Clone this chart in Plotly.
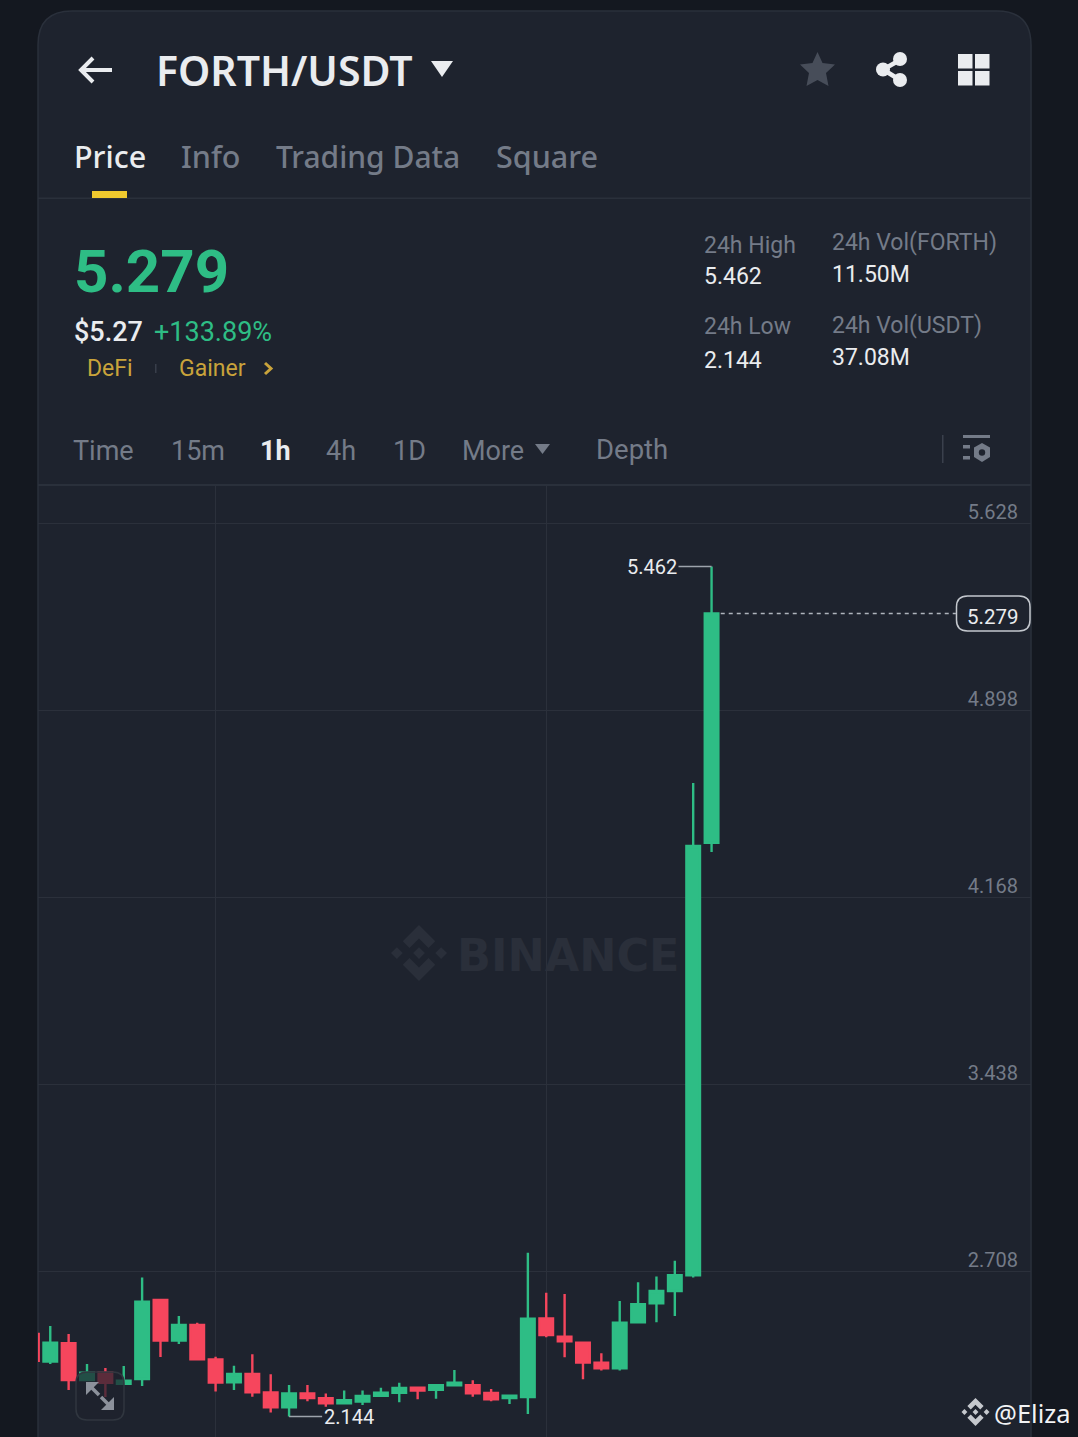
import plotly.graph_objects as go

W, H = 1078, 1437

# ---------- data ----------
candle_index = list(range(38))
opens = [2.466, 2.358, 2.430, 2.286, 2.315, 2.271, 2.290, 2.599, 2.440, 2.501,
         2.367, 2.277, 2.310, 2.238, 2.180, 2.234, 2.215, 2.195, 2.202, 2.225,
         2.236, 2.256, 2.248, 2.266, 2.266, 2.236, 2.216, 2.220, 2.527, 2.455,
         2.432, 2.354, 2.332, 2.512, 2.586, 2.634, 2.695, 4.383]
highs = [2.470, 2.497, 2.466, 2.349, 2.333, 2.341, 2.686, 2.601, 2.536, 2.510,
         2.377, 2.342, 2.387, 2.309, 2.267, 2.267, 2.234, 2.245, 2.245, 2.256,
         2.276, 2.258, 2.267, 2.325, 2.285, 2.251, 2.226, 2.783, 2.627, 2.622,
         2.433, 2.391, 2.595, 2.668, 2.690, 2.752, 4.617, 5.462]
lows = [2.357, 2.349, 2.247, 2.284, 2.220, 2.270, 2.263, 2.376, 2.427, 2.366,
        2.241, 2.247, 2.221, 2.159, 2.144, 2.203, 2.182, 2.191, 2.189, 2.225,
        2.199, 2.211, 2.213, 2.265, 2.221, 2.203, 2.193, 2.154, 2.453, 2.375,
        2.289, 2.323, 2.323, 2.511, 2.512, 2.536, 2.686, 4.348]
closes = [2.361, 2.432, 2.286, 2.315, 2.275, 2.284, 2.592, 2.440, 2.501, 2.367,
          2.276, 2.310, 2.238, 2.180, 2.234, 2.216, 2.195, 2.207, 2.224, 2.237,
          2.255, 2.245, 2.266, 2.276, 2.234, 2.211, 2.225, 2.526, 2.462, 2.437,
          2.354, 2.332, 2.510, 2.582, 2.634, 2.695, 4.371, 5.279]
price_ticks = [5.628, 4.898, 4.168, 3.438, 2.708]
price_tick_labels = ["5.628", "4.898", "4.168", "3.438", "2.708"]
time_grid = [10, 28]
last_price = 5.279
day_high = 5.462
day_low = 2.144

# ---------- palette ----------
OUTER = "#141820"
CARD = "#1e232e"
EDGE = "#2a303b"
GRID = "#2b303b"
UP = "#2ebd85"
DOWN = "#f6465d"
WHITE = "#eaecef"
GREY = "#747b88"
GOLD = "#c9a33b"
NUM = "Roboto"
TXT = "Noto Sans"


def px(x):
    return x / W


def py(y):
    return 1 - y / H


def poly(points, color, line=None, width=0, layer="above", closed=True):
    d = "M" + " L".join(f"{px(x):.5f},{py(y):.5f}" for x, y in points) + (" Z" if closed else "")
    return dict(type="path", xref="paper", yref="paper", path=d,
                fillcolor=color if closed else "rgba(0,0,0,0)",
                line=dict(color=line or color, width=width), layer=layer)


def rrect(x0, y0, x1, y1, r, fill, line, width=1.5, layer="above"):
    P = lambda x, y: f"{px(x):.5f},{py(y):.5f}"
    d = (f"M{P(x0 + r, y0)} L{P(x1 - r, y0)} Q{P(x1, y0)} {P(x1, y0 + r)} "
         f"L{P(x1, y1 - r)} Q{P(x1, y1)} {P(x1 - r, y1)} L{P(x0 + r, y1)} "
         f"Q{P(x0, y1)} {P(x0, y1 - r)} L{P(x0, y0 + r)} Q{P(x0, y0)} {P(x0 + r, y0)} Z")
    return dict(type="path", xref="paper", yref="paper", path=d, fillcolor=fill,
                line=dict(color=line, width=width), layer=layer)


def rect(x0, y0, x1, y1, color, layer="above"):
    return dict(type="rect", xref="paper", yref="paper", x0=px(x0), x1=px(x1),
                y0=py(y0), y1=py(y1), fillcolor=color, line=dict(width=0), layer=layer)


def circle(cx, cy, r, color):
    return dict(type="circle", xref="paper", yref="paper", x0=px(cx - r), x1=px(cx + r),
                y0=py(cy + r), y1=py(cy - r), fillcolor=color, line=dict(width=0), layer="above")


def logo(cx, cy, R, color):
    out = []
    d = 0.21 * R
    for ox, oy in [(0, 0), (-0.79 * R, 0), (0.79 * R, 0)]:
        out.append(poly([(cx + ox, cy + oy - d), (cx + ox + d, cy + oy),
                         (cx + ox, cy + oy + d), (cx + ox - d, cy + oy)], color))
    for s in (1, -1):
        chev = [(0, -1), (.58, -.42), (.34, -.18), (0, -.52), (-.34, -.18), (-.58, -.42)]
        out.append(poly([(cx + a * R, cy + s * b * R) for a, b in chev], color))
    return out


def txt(x, y, s, size, color, family=TXT, weight=400, anchor="left"):
    return dict(xref="paper", yref="paper", x=px(x), y=py(y), text=s, showarrow=False,
                xanchor=anchor, yanchor="middle", borderpad=0,
                font=dict(size=size, color=color, family=family, weight=weight))


shapes = [rrect(38, 11, 1031, 1500, 34, CARD, EDGE, 1.5, layer="below")]
shapes += [rect(38, 197.5, 1031, 199, EDGE, "below"), rect(38, 484, 1031, 486, EDGE, "below")]
shapes += logo(419, 953, 28, "#2a2f3a")

# back arrow
shapes.append(poly([(80, 70), (112, 70)], WHITE, width=4, closed=False))
shapes.append(poly([(93, 58), (81, 70), (93, 82)], WHITE, width=4, closed=False))
# title caret
shapes.append(poly([(431, 61), (453, 61), (442, 77)], WHITE))
# tab indicator
shapes.append(rect(92, 191, 127, 198, "#f0c92e"))
# star
shapes.append(poly([(817.5, 52), (822.5, 63), (835, 64.5), (826, 73), (828.5, 86), (817.5, 80),
                    (806.5, 86), (809, 73), (800, 64.5), (812.5, 63)], "#474d59"))
# share
shapes.append(poly([(900, 60), (883, 69.5), (900, 80)], WHITE, width=4.5, closed=False))
shapes += [circle(900, 59, 7, WHITE), circle(883, 69.5, 7, WHITE), circle(900, 80, 7, WHITE)]
# grid
for gx in (958, 975):
    for gy in (54, 71):
        shapes.append(rect(gx, gy, gx + 14.5, gy + 14.5, WHITE))
# chevron
shapes.append(poly([(265, 363), (271, 368.5), (265, 374)], GOLD, width=3, closed=False))
shapes.append(rect(155, 364, 156.5, 373, "#383e4a"))
# More caret
shapes.append(poly([(535, 444), (550, 444), (542.5, 454)], GREY))
# toolbar
shapes.append(rect(942, 435, 943.5, 463, "#3a404c"))
shapes.append(rect(963, 435, 990, 438, GREY))
shapes.append(rect(963, 445, 970, 448.5, GREY))
shapes.append(rect(963, 456, 970, 459.5, GREY))
shapes.append(poly([(982, 443), (990, 447.5), (990, 457), (982, 462), (974, 457), (974, 447.5)], GREY))
shapes.append(circle(982, 452.5, 3.2, CARD))

# chart callouts
shapes.append(dict(type="line", xref="x", yref="y", x0=37.5, x1=50.3, y0=last_price, y1=last_price,
                   line=dict(color="#aeb4bc", width=1.5, dash="4px,4px"), layer="above"))
shapes.append(rrect(956.5, 596, 1030, 631, 11, CARD, "#c4c8ce", 1.5))
shapes.append(dict(type="line", xref="x", yref="y", x0=35.2, x1=37, y0=day_high, y1=day_high,
                   line=dict(color="#9da3ac", width=1.5), layer="above"))
shapes.append(dict(type="line", xref="x", yref="y", x0=14, x1=15.8, y0=day_low, y1=day_low,
                   line=dict(color="#9da3ac", width=1.5), layer="above"))

# expand icon
shapes.append(rrect(76, 1372, 124, 1420, 11, "rgba(30,35,46,0.72)", "#30363f", 1.5))
shapes.append(poly([(86, 1382), (99, 1382), (86, 1395)], "#8c919b"))
shapes.append(poly([(114, 1410), (101, 1410), (114, 1397)], "#8c919b"))
shapes.append(poly([(90, 1386), (99, 1395)], "#8c919b", width=3.5, closed=False))
shapes.append(poly([(110, 1406), (101, 1397)], "#8c919b", width=3.5, closed=False))

# signature logo
shapes += logo(975.5, 1412, 14, "#c5c8cd")

annotations = [
    txt(155, 70, "FORTH/USDT", 41, WHITE, TXT, 600),
    txt(73, 156, "Price", 30.5, WHITE, TXT, 500),
    txt(180, 156, "Info", 30.5, GREY, TXT, 500),
    txt(275, 156, "Trading Data", 30, GREY, TXT, 500),
    txt(495, 156, "Square", 30.5, GREY, TXT, 500),
    txt(73, 271, "5.279", 60, UP, NUM, 700),
    txt(73, 332, "$5.27", 27, WHITE, NUM, 500),
    txt(153, 332, "+133.89%", 27, UP, NUM, 400),
    txt(86, 369, "DeFi", 23, GOLD, NUM, 400),
    txt(178, 369, "Gainer", 23, GOLD, NUM, 400),
    txt(703, 245, "24h High", 23, GREY, NUM),
    txt(703, 277, "5.462", 23, WHITE, NUM),
    txt(703, 327, "24h Low", 23, GREY, NUM),
    txt(703, 360, "2.144", 23, WHITE, NUM),
    txt(831, 243, "24h Vol(FORTH)", 23, GREY, NUM),
    txt(831, 275, "11.50M", 23, WHITE, NUM),
    txt(831, 325, "24h Vol(USDT)", 23, GREY, NUM),
    txt(831, 358, "37.08M", 23, WHITE, NUM),
    txt(72, 451, "Time", 27, GREY, NUM),
    txt(170, 451, "15m", 27, GREY, NUM),
    txt(259, 451, "1h", 27, WHITE, NUM, 700),
    txt(325, 451, "4h", 27, GREY, NUM),
    txt(392, 451, "1D", 27, GREY, NUM),
    txt(461, 451, "More", 27, GREY, NUM),
    txt(595, 450, "Depth", 27.5, GREY, NUM),
    txt(456, 955, "BINANCE", 44.5, "#2a2f3a", "DejaVu Sans", 700),
    txt(993, 617, "5.279", 20.5, WHITE, NUM, 400, "center"),
    txt(993, 1413, "@Eliza", 25.5, "#f2f3f5", TXT, 400),
    dict(xref="x", yref="y", x=35.15, y=day_high, text=f"{day_high}", showarrow=False, xanchor="right",
         yanchor="middle", borderpad=0, font=dict(size=20, color=WHITE, family=NUM)),
    dict(xref="x", yref="y", x=15.85, y=day_low, text=f"{day_low}", showarrow=False, xanchor="left",
         yanchor="middle", yshift=-1, borderpad=0, font=dict(size=20, color=WHITE, family=NUM)),
]

fig = go.Figure(go.Candlestick(
    x=candle_index, open=opens, high=highs, low=lows, close=closes,
    increasing=dict(line=dict(color=UP, width=2.4), fillcolor=UP),
    decreasing=dict(line=dict(color=DOWN, width=2.4), fillcolor=DOWN),
    whiskerwidth=0, showlegend=False,
))

fig.update_layout(
    width=W, height=H, margin=dict(l=0, r=0, t=0, b=0),
    paper_bgcolor=OUTER, plot_bgcolor="rgba(0,0,0,0)",
    showlegend=False, boxgap=0.26, boxgroupgap=0,
    shapes=shapes, annotations=annotations,
    xaxis=dict(domain=[px(38), px(1031)], range=[0.332, 54.39], rangeslider=dict(visible=False),
               tickmode="array", tickvals=time_grid, showticklabels=False, ticks="",
               showgrid=True, gridcolor=GRID, gridwidth=1.2, zeroline=False, showline=False),
    yaxis=dict(domain=[0, py(485)], range=[2.0638, 5.7802], side="right",
               tickmode="array", tickvals=price_ticks, ticktext=price_tick_labels,
               ticklabelposition="inside top", ticklabelstandoff=10, ticklabelshift=2, ticks="",
               tickfont=dict(size=20, color=GREY, family=NUM),
               showgrid=True, gridcolor=GRID, gridwidth=1.2, zeroline=False, showline=False),
)

fig.write_html("out.html", config=dict(displayModeBar=False),
               post_script="document.body.style.margin='0';document.body.style.overflow='hidden';document.body.style.background='#141820';")
